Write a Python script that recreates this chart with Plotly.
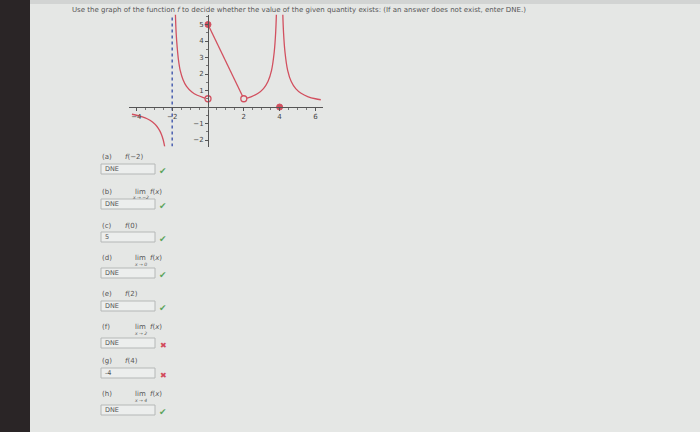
import plotly.graph_objects as go

# ---- graph data ----
left_x = [-4.25, -4.0, -3.7, -3.4, -3.1, -2.85, -2.7, -2.6, -2.5, -2.42]
left_y = [-0.44, -0.5, -0.59, -0.71, -0.91, -1.18, -1.43, -1.67, -2.0, -2.4]

mid_x = [-1.82, -1.78, -1.72, -1.65, -1.55, -1.4, -1.2, -0.9, -0.6, -0.3, 0.0]
mid_y = [5.6, 4.5, 3.6, 2.85, 2.2, 1.67, 1.25, 0.91, 0.71, 0.59, 0.5]

seg_x = [0, 2]
seg_y = [5, 0.5]

rise_x = [2.0, 2.4, 2.8, 3.1, 3.35, 3.55, 3.7, 3.78, 3.82]
rise_y = [0.5, 0.62, 0.83, 1.11, 1.54, 2.22, 3.33, 4.5, 5.6]

fall_x = [4.18, 4.22, 4.3, 4.45, 4.65, 4.9, 5.2, 5.6, 6.0, 6.3]
fall_y = [5.6, 4.5, 3.33, 2.22, 1.54, 1.11, 0.83, 0.62, 0.5, 0.44]

filled_x = [0, 4]
filled_y = [5, 0]
open_x = [0, 2]
open_y = [0.5, 0.5]

asym_x = [-2, -2]
asym_y = [-2.4, 5.6]

x_ticks = [-4, -2, 2, 4, 6]
y_ticks = [-2, -1, 1, 2, 3, 4, 5]

# ---- question items ----
letters = ["(a)", "(b)", "(c)", "(d)", "(e)", "(f)", "(g)", "(h)"]
quantities = ["<i>f</i>(−2)", "lim", "<i>f</i>(0)", "lim", "<i>f</i>(2)", "lim", "<i>f</i>(4)", "lim"]
limit_of = [None, "x → −2", None, "x → 0", None, "x → 2", None, "x → 4"]
answers = ["DNE", "DNE", "5", "DNE", "DNE", "DNE", "-4", "DNE"]
correct = [True, True, True, True, True, False, False, True]

W, H = 700, 432
RED = "#d2505f"
BG = "#e5e7e5"


def px(x):
    return x / W


def py(y):
    return 1 - y / H


fig = go.Figure()
fig.add_trace(go.Scatter(x=asym_x, y=asym_y, mode="lines",
                         line=dict(color="#4a5fb0", width=1.5, dash="dot")))
for xs, ys in [(left_x, left_y), (mid_x, mid_y), (rise_x, rise_y), (fall_x, fall_y)]:
    fig.add_trace(go.Scatter(x=xs, y=ys, mode="lines",
                             line=dict(color=RED, width=1.3, shape="spline", smoothing=1.0)))
fig.add_trace(go.Scatter(x=seg_x, y=seg_y, mode="lines", line=dict(color=RED, width=1.3)))
fig.add_trace(go.Scatter(x=open_x, y=open_y, mode="markers", cliponaxis=False,
                         marker=dict(size=6, color=BG, line=dict(color=RED, width=1.3))))
fig.add_trace(go.Scatter(x=filled_x, y=filled_y, mode="markers", cliponaxis=False,
                         marker=dict(size=6, color=RED, line=dict(color=RED, width=1))))

# pixel layout of the graph: origin at (208, 107), 17.9 px per x unit, 16.5 px per y unit
xr = [-4.4, 6.4]
yr = [-2.4, 5.6]
x0pix, y0pix = 208, 107
xdom = [px(x0pix + 17.9 * xr[0]), px(x0pix + 17.9 * xr[1])]
ydom = [py(y0pix - 16.5 * yr[0]), py(y0pix - 16.5 * yr[1])]

axis_common = dict(showgrid=False, zeroline=False, showline=True, linecolor="#555",
                   linewidth=1, ticks="outside", ticklen=3, tickcolor="#555",
                   tickfont=dict(family="DejaVu Sans", size=7, color="#444"),
                   minor=dict(ticks="outside", ticklen=2, dtick=0.5, tickcolor="#777"))

fig.update_layout(
    width=W, height=H, margin=dict(l=0, r=0, t=0, b=0),
    paper_bgcolor=BG, plot_bgcolor=BG, showlegend=False, hovermode=False,
    xaxis=dict(range=xr, domain=xdom, anchor="free", position=py(y0pix),
               tickvals=x_ticks, **axis_common),
    yaxis=dict(range=yr, domain=ydom, anchor="free", position=px(x0pix),
               tickvals=y_ticks, **axis_common),
)

# dark edge of the screen on the left
fig.add_shape(type="rect", xref="paper", yref="paper", x0=0, x1=px(30), y0=0, y1=1,
              fillcolor="#2a2526", line_width=0, layer="above")
fig.add_shape(type="rect", xref="paper", yref="paper", x0=px(30), x1=1, y0=py(4), y1=1,
              fillcolor="#d2d4d3", line_width=0)

txt = dict(family="DejaVu Sans", color="#555")
fig.add_annotation(xref="paper", yref="paper", x=px(70), y=py(10), xanchor="left",
                   yanchor="middle", showarrow=False,
                   text="Use the graph of the function <i>f</i> to decide whether the value of the "
                        "given quantity exists: (If an answer does not exist, enter DNE.)",
                   font=dict(size=7, **txt))

label_y = [157, 192, 226, 258, 294, 327, 361, 394]
box_top = [164, 199, 232, 268, 301, 338, 368, 405]
for i in range(len(letters)):
    ly = label_y[i]
    fig.add_annotation(xref="paper", yref="paper", x=px(100), y=py(ly), xanchor="left",
                       yanchor="middle", showarrow=False, text=letters[i],
                       font=dict(size=7, **txt))
    if limit_of[i] is None:
        fig.add_annotation(xref="paper", yref="paper", x=px(123), y=py(ly), xanchor="left",
                           yanchor="middle", showarrow=False, text=quantities[i],
                           font=dict(size=7, **txt))
    else:
        fig.add_annotation(xref="paper", yref="paper", x=px(140), y=py(ly), xanchor="center",
                           yanchor="middle", showarrow=False, text="lim",
                           font=dict(size=7, **txt))
        fig.add_annotation(xref="paper", yref="paper", x=px(140), y=py(ly + 6),
                           xanchor="center", yanchor="middle", showarrow=False,
                           text="<i>" + limit_of[i] + "</i>", font=dict(size=4.5, **txt))
        fig.add_annotation(xref="paper", yref="paper", x=px(148), y=py(ly), xanchor="left",
                           yanchor="middle", showarrow=False, text="<i>f</i>(<i>x</i>)",
                           font=dict(size=7, **txt))
    bt = box_top[i]
    fig.add_shape(type="rect", xref="paper", yref="paper", x0=px(101), x1=px(155),
                  y0=py(bt + 10), y1=py(bt), fillcolor="#eceeed",
                  line=dict(color="#b5b8b7", width=1))
    fig.add_annotation(xref="paper", yref="paper", x=px(103), y=py(bt + 5), xanchor="left",
                       yanchor="middle", showarrow=False, text=answers[i],
                       font=dict(size=6.5, **txt))
    fig.add_annotation(xref="paper", yref="paper", x=px(163), y=py(bt + 7), xanchor="center",
                       yanchor="middle", showarrow=False,
                       text="✔" if correct[i] else "✖",
                       font=dict(family="DejaVu Sans", size=9 if correct[i] else 8,
                                 color="#5ca45c" if correct[i] else "#d24a5a"))

# the page's default body margin would push the 700x432 figure off the window
fig.write_html("out.html", config={"displayModeBar": False},
               post_script="document.body.style.margin='0';")
